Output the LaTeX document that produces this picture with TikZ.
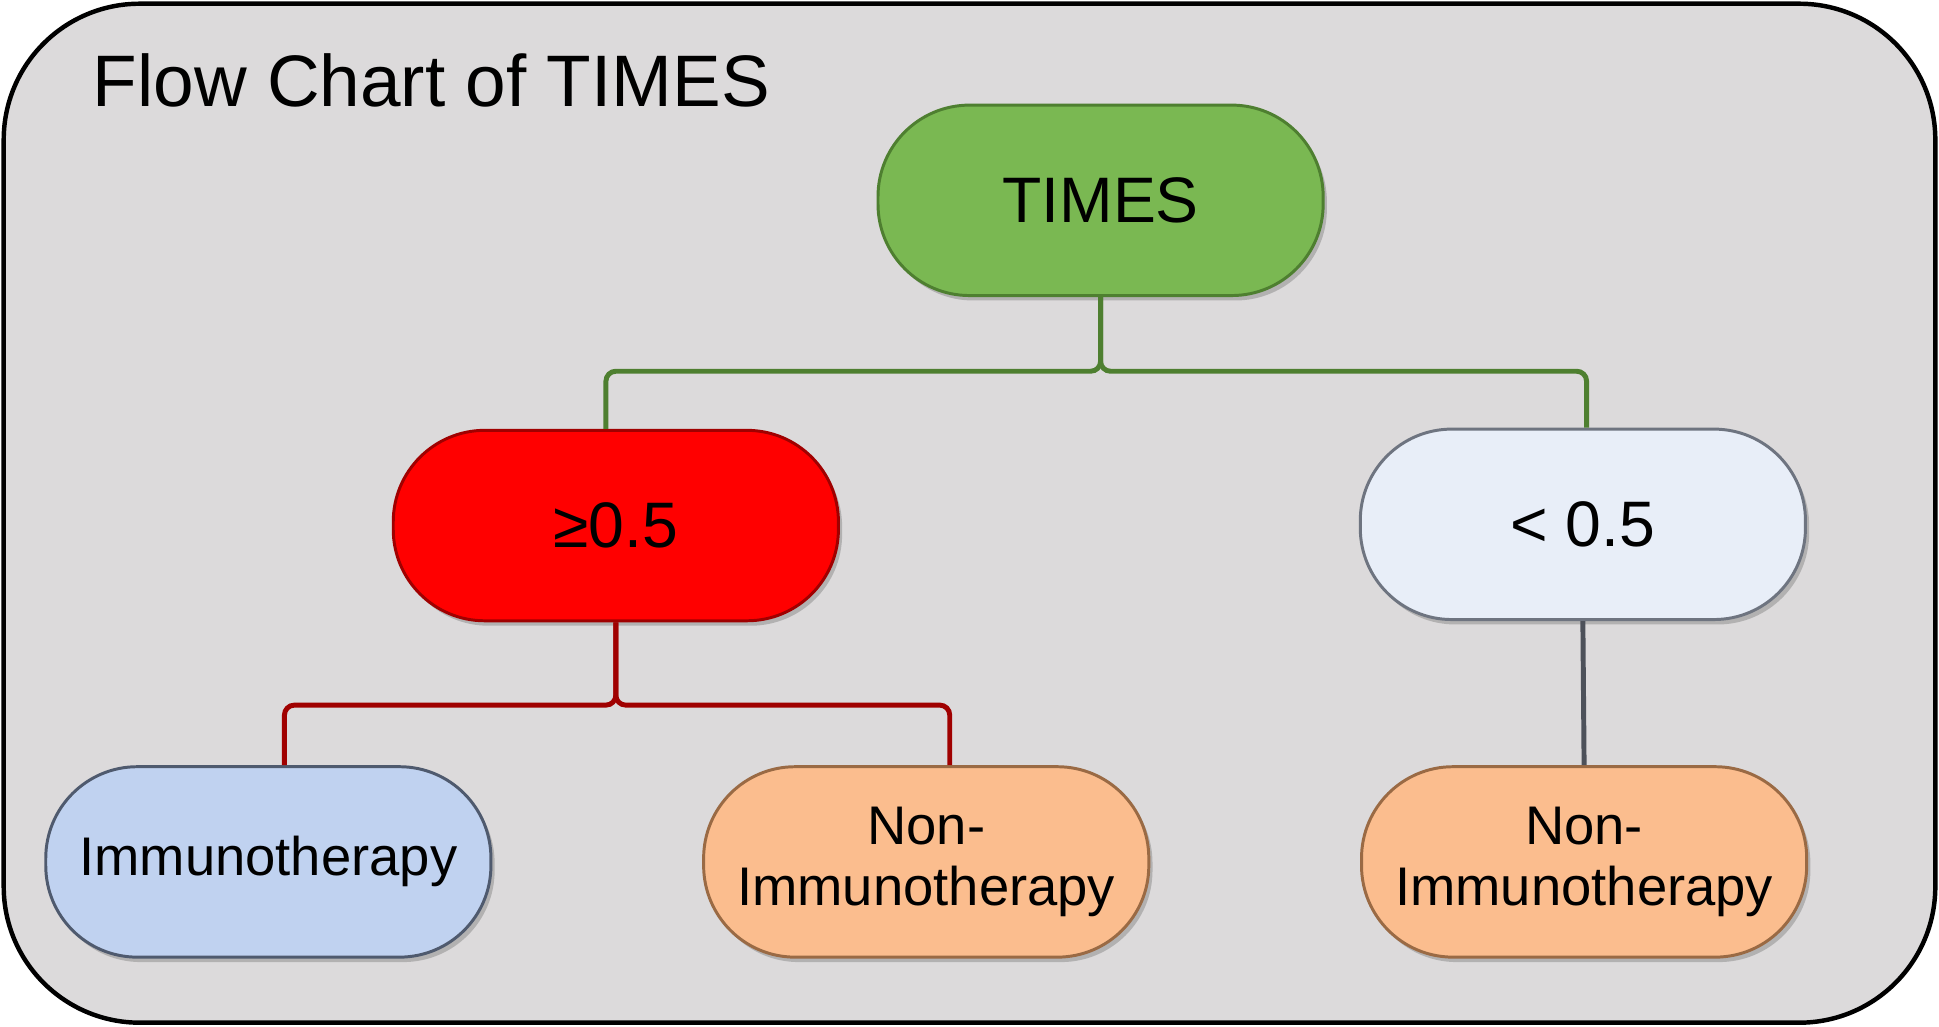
\documentclass[tikz,border=0pt]{standalone}
\usepackage{fontspec}
\setmainfont{Liberation Sans}
\usetikzlibrary{shadows,calc}
\definecolor{bg}{HTML}{DCDADB}
\definecolor{gr}{HTML}{7AB852}
\definecolor{grd}{HTML}{4E7F30}
\definecolor{rd}{HTML}{FF0000}
\definecolor{rdd}{HTML}{A00000}
\definecolor{wh}{HTML}{E8EEF8}
\definecolor{whd}{HTML}{6E7480}
\definecolor{bl}{HTML}{C0D2F0}
\definecolor{bld}{HTML}{4F5A6E}
\definecolor{og}{HTML}{FBBD8E}
\definecolor{ogd}{HTML}{9A6A44}
\tikzset{
  pill/.style={rounded corners=37pt, minimum width=180pt, minimum height=77pt, line width=1.2pt, align=center,
    font=\fontsize{22}{25}\selectfont, drop shadow={shadow xshift=1.5pt,shadow yshift=-2pt,opacity=.45}},
  big/.style={font=\fontsize{26}{29}\selectfont},
  conn/.style={line width=2pt},
}
\begin{document}
\begin{tikzpicture}[x=0.5pt,y=-0.5pt]
\useasboundingbox (0,0) rectangle (1568,830);
\draw[fill=bg,line width=1.8pt,rounded corners=55pt] (3,3) rectangle (1565,827);
\node[anchor=west,font=\fontsize{29.5}{32}\selectfont] (title) at (68,65) {Flow Chart of TIMES};
\node[pill,fill=gr,draw=grd,big] (t) at (890,162) {TIMES};
\node[pill,fill=rd,draw=rdd,big] (ge) at (498,425) {≥0.5};
\node[pill,fill=wh,draw=whd,big] (lt) at (1280,424) {< 0.5};
\node[pill,fill=bl,draw=bld] (im) at (217,697) {Immunotherapy};
\node[pill,fill=og,draw=ogd] (n1) at (749,697) {Non-\\Immunotherapy};
\node[pill,fill=og,draw=ogd] (n2) at (1281,697) {Non-\\Immunotherapy};
\draw[conn,draw=grd,rounded corners=4pt] (t.south) -- ++(0,60) -| ($(ge.north)+(-8,0)$);
\draw[conn,draw=grd,rounded corners=4pt] (t.south) -- ++(0,60) -| ($(lt.north)+(3,0)$);
\draw[conn,draw=rdd,rounded corners=4pt] (ge.south) -- ++(0,67) -| ($(im.north)+(13,0)$);
\draw[conn,draw=rdd,rounded corners=4pt] (ge.south) -- ++(0,67) -| ($(n1.north)+(19,0)$);
\draw[conn,draw=whd!70!black] (lt.south) -- (n2.north);
\end{tikzpicture}
\end{document}
